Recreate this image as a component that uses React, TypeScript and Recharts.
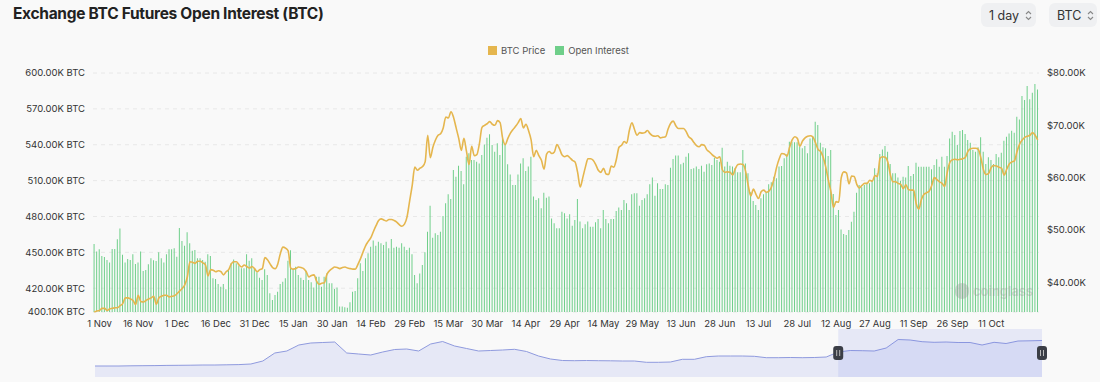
import React from 'react';
import {
  Area,
  AreaChart,
  Bar,
  CartesianGrid,
  ComposedChart,
  Line,
  ReferenceArea,
  ReferenceDot,
  XAxis,
  YAxis,
} from 'recharts';

// Open interest, K BTC, one bar per day from 30 Oct
const openInterest = [
  457, 450.6, 452.5, 447, 446, 443.6, 441.6, 452.8, 452.8, 461,
  470, 448, 441.6, 444.4, 443.6, 448.3, 440.2, 441.6, 450.6, 434.4,
  435.2, 440, 445, 443.3, 442.8, 450, 445, 441.4, 448.3, 452.5,
  452.5, 453.4, 446.4, 470.4, 459.5, 455.6, 466.7, 457.5, 451.4, 452,
  445, 445, 443.6, 442.2, 448.3, 446.9, 428.3, 427.7, 423.5, 421.3,
  423.5, 419.1, 436.1, 440.8, 444.1, 440.8, 438.9, 436.6, 436.6, 448.3,
  443, 445, 436.1, 433.3, 428.8, 426.9, 435.8, 431, 415.7, 410.1,
  414.3, 417.1, 423.5, 425.5, 428.3, 443, 451.7, 436.1, 438, 431,
  428.8, 426.9, 434.7, 426.9, 424.9, 420.5, 429.6, 429.6, 421.3, 429.6,
  432.4, 424.1, 424.1, 419.3, 420.5, 404.6, 404.6, 404.0, 403.7, 408.2,
  417.1, 417.7, 428.3, 440.8, 434.4, 445.0, 449.2, 454.7, 459.8, 455.6,
  458.9, 457.5, 456.1, 458.9, 453.4, 461.2, 453.9, 454.7, 453.9, 457.5,
  454.7, 452.0, 453.9, 448.3, 431.0, 424.1, 432.4, 439.4, 450.0, 467.3,
  489.0, 462.3, 465.9, 464.5, 467.3, 480.4, 491.0, 498.5, 494.6, 518.9,
  513.3, 522.5, 518.0, 506.9, 530.0, 532.8, 527.2, 527.2, 525.8, 524.4,
  531.4, 540.3, 545.9, 548.7, 539.8, 534.2, 541.2, 531.4, 545.4, 539.8,
  523.6, 515.2, 506.3, 506.3, 515.2, 524.4, 528.6, 518.0, 521.7, 530.0,
  496.6, 493.8, 495.2, 486.8, 499.9, 495.7, 496.6, 478.4, 474.3, 470.1,
  470.1, 484.0, 482.6, 478.4, 481.8, 472.3, 477.1, 494.6, 475.7, 470.1,
  473.4, 475.7, 471.5, 471.5, 475.1, 477.9, 470.1, 485.4, 477.9, 474.3,
  477.9, 477.9, 484.6, 487.6, 485.4, 493.8, 491.0, 485.4, 498.5, 499.4,
  499.4, 489.0, 493.8, 495.2, 498.5, 506.9, 512.5, 497.4, 507.7, 503.0,
  503.0, 506.9, 506.3, 520.8, 528.1, 530.9, 530.9, 523.6, 525.0, 530.0,
  532.8, 519.7, 520.3, 521.7, 519.7, 522.5, 517.5, 523.6, 524.4, 523.1,
  529.2, 527.2, 525.8, 537.5, 521.7, 525.8, 522.5, 521.7, 520.3, 516.9,
  516.9, 535.6, 524.4, 516.1, 500.2, 492.9, 489.6, 485.4, 495.2, 498.5,
  500.2, 506.9, 508.6, 513.3, 511.9, 521.7, 522.2, 528.6, 532.0, 542.6,
  542.6, 542.0, 542.0, 538.5, 537.0, 538.9, 532.8, 545.3, 547.3, 559.3,
  556.5, 541.7, 537.8, 537.0, 530.6, 535.6, 498.8, 481.2, 485.4, 469.2,
  465.3, 464.5, 468.7, 475.6, 484.0, 499.9, 506.3, 504.4, 506.3, 508.3,
  507.7, 510.5, 520.3, 516.1, 532.2, 536.1, 538.9, 534.2, 523.9, 516.1,
  516.1, 512.7, 509.9, 513.3, 512.7, 522.2, 513.8, 515.5, 525.0, 521.6,
  521.6, 521.6, 521.6, 521.6, 519.4, 523.0, 527.8, 521.6, 530.0, 521.6,
  530.6, 545.3, 550.9, 548.1, 539.8, 551.5, 552.3, 549.0, 543.9, 541.7,
  535.6, 534.2, 537.8, 546.2, 534.2, 523.9, 529.5, 527.2, 523.9, 532.2,
  529.5, 533.4, 543.4, 546.7, 549.5, 551.8, 550.1, 563.5, 561.2, 580.8,
  577.4, 589.1, 578.0, 583.5, 590.8, 586.3,
];

// BTC price, K USD
const btcPrice = [
  34.3, 34.5, 34.6, 35.0, 35.0, 34.6, 34.9, 35.0, 35.1, 35.1,
  35.5, 35.9, 37.0, 37.0, 36.8, 36.5, 35.7, 37.5, 36.3, 36.2,
  36.5, 36.8, 37.0, 37.3, 35.8, 37.0, 37.3, 37.5, 37.5, 37.2,
  37.3, 37.4, 37.8, 38.3, 38.8, 39.5, 41.0, 43.9, 43.8, 43.6,
  44.0, 44.0, 43.7, 43.3, 41.2, 42.4, 42.3, 42.0, 42.2, 42.0,
  41.4, 42.0, 42.4, 43.5, 43.9, 43.9, 43.3, 42.9, 43.3, 43.0,
  42.7, 43.0, 42.6, 42.0, 42.4, 42.6, 44.7, 44.3, 43.5, 42.8,
  42.6, 43.5, 45.5, 46.7, 46.5, 46.0, 42.7, 42.5, 42.6, 42.9,
  42.8, 42.6, 42.0, 41.0, 41.3, 41.4, 40.2, 39.6, 39.8, 39.9,
  41.5, 42.2, 42.6, 42.9, 42.8, 42.6, 42.8, 42.9, 42.7, 42.6,
  42.5, 42.5, 43.4, 44.5, 45.8, 47.0, 47.8, 48.5, 49.7, 50.8,
  51.8, 52.1, 51.9, 51.7, 52.0, 52.0, 51.8, 51.5, 51.0, 50.7,
  51.1, 52.5, 55.5, 58.5, 62.0, 61.4, 61.8, 62.1, 63.0, 68.1,
  63.8, 65.8, 67.2, 68.1, 68.4, 69.5, 71.6, 71.4, 72.6, 71.5,
  69.5, 67.5, 65.2, 67.5, 65.0, 62.5, 66.0, 64.2, 64.4, 66.5,
  69.6, 70.0, 70.3, 70.7, 70.2, 70.0, 70.9, 70.5, 67.5, 66.3,
  67.5, 68.5, 69.2, 69.8, 70.5, 71.3, 69.5, 70.2, 69.0, 67.2,
  64.0, 65.2, 64.2, 63.3, 61.6, 64.5, 65.0, 64.6, 64.9, 66.3,
  65.5, 64.3, 64.0, 64.2, 63.8, 63.3, 63.0, 61.0, 58.2, 60.0,
  62.0, 63.6, 63.6, 63.3, 62.5, 61.4, 61.0, 61.8, 60.7, 60.6,
  62.2, 62.0, 63.5, 65.8, 66.2, 66.9, 66.6, 69.0, 70.5, 69.2,
  68.1, 68.6, 68.5, 68.6, 69.0, 68.4, 68.0, 67.9, 68.0, 67.6,
  67.7, 67.8, 69.3, 70.4, 70.8, 69.9, 69.4, 69.4, 69.4, 68.8,
  67.8, 67.4, 66.7, 66.1, 65.9, 66.3, 66.2, 65.3, 64.9, 64.4,
  64.0, 63.7, 64.0, 61.5, 61.0, 61.1, 61.0, 60.5, 61.7, 62.5,
  62.6, 62.5, 61.2, 58.5, 56.5, 57.8, 56.8, 56.0, 57.3, 57.6,
  57.2, 57.4, 58.2, 59.8, 62.0, 63.6, 64.6, 64.5, 64.1, 65.8,
  67.2, 67.8, 67.5, 66.0, 67.0, 67.6, 67.9, 68.0, 67.8, 66.7,
  65.4, 65.0, 63.9, 62.0, 59.5, 57.3, 54.3, 55.4, 55.3, 60.0,
  61.1, 60.9, 58.8, 60.3, 60.2, 58.7, 58.0, 58.5, 58.9, 58.9,
  59.5, 59.3, 60.4, 60.2, 63.7, 64.0, 63.9, 63.0, 60.5, 59.2,
  59.2, 58.9, 58.7, 57.9, 58.6, 57.7, 57.6, 57.6, 55.0, 54.0,
  55.8, 56.8, 57.1, 57.4, 58.5, 60.0, 59.6, 59.2, 58.9, 58.3,
  61.0, 62.9, 63.4, 63.5, 63.4, 63.5, 63.6, 63.9, 65.0, 65.5,
  65.6, 65.6, 65.4, 63.8, 61.5, 60.6, 60.8, 61.9, 62.3, 62.2,
  62.0, 61.8, 60.5, 61.6, 62.6, 63.0, 63.2, 65.0, 66.4, 67.2,
  67.7, 67.9, 68.1, 68.6, 68.1, 67.2,
];

const xTicks = [
  '1 Nov', '16 Nov', '1 Dec', '16 Dec', '31 Dec', '15 Jan', '30 Jan', '14 Feb',
  '29 Feb', '15 Mar', '30 Mar', '14 Apr', '29 Apr', '14 May', '29 May', '13 Jun',
  '28 Jun', '13 Jul', '28 Jul', '12 Aug', '27 Aug', '11 Sep', '26 Sep', '11 Oct',
];
const oiTicks = [400.1, 420, 450, 480, 510, 540, 570, 600];
const priceTicks = [40, 50, 60, 70, 80];

// overview strip under the chart (longer history)
const overview = [
  11, 11, 11, 11.2, 11.3, 11.4, 11.6, 11.7, 11.8, 12,
  12, 12.2, 12.4, 13, 16, 24, 26, 32, 34, 34.5,
  35, 24, 23, 22, 25, 27.5, 28, 26, 33, 35.5,
  31, 28.5, 26, 26.5, 27, 27.7, 25.5, 21, 18, 16.5,
  16.3, 16.5, 16.3, 16.2, 16, 16, 14.7, 14.7, 15, 17.7,
  17.7, 20.3, 21, 21, 21, 20.7, 19.3, 19.3, 19.5, 19.3,
  19.5, 20, 25, 26.5, 26.3, 26, 29, 37.5, 37, 35.3,
  34.7, 35, 34.5, 34.5, 32, 34.7, 33.5, 36, 36.2, 36.5,
];
const brushStart = 62;
const brushEnd = 79;

const MONTHS = ['Jan', 'Feb', 'Mar', 'Apr', 'May', 'Jun', 'Jul', 'Aug', 'Sep', 'Oct', 'Nov', 'Dec'];
const start = Date.UTC(2023, 9, 30);

const data = openInterest.map((oi, i) => {
  const d = new Date(start + i * 86400000);
  return { date: `${d.getUTCDate()} ${MONTHS[d.getUTCMonth()]}`, oi, price: btcPrice[i] };
});
const overviewData = overview.map((v, i) => ({ i, v }));

const FONT = 'Inter, "Noto Sans", sans-serif';
const tickStyle = { fontSize: 9.5, fill: '#333', fontFamily: FONT };

const Handle = (props: any) => {
  const { cx, cy } = props;
  return (
    <g>
      <rect x={cx - 5} y={cy - 7} width={10} height={14} rx={3} fill="#3b3e46" />
      <line x1={cx - 1.5} y1={cy - 3} x2={cx - 1.5} y2={cy + 3} stroke="#bbb" strokeWidth={1} />
      <line x1={cx + 1.5} y1={cy - 3} x2={cx + 1.5} y2={cy + 3} stroke="#bbb" strokeWidth={1} />
    </g>
  );
};

const Chevron = () => (
  <svg width={7} height={11} style={{ marginLeft: 6 }}>
    <path d="M1 4 L3.5 1.5 L6 4 M1 7 L3.5 9.5 L6 7" stroke="#888" strokeWidth={1.1} fill="none" />
  </svg>
);

const selectBox: React.CSSProperties = {
  position: 'absolute',
  top: 3,
  height: 24,
  borderRadius: 6,
  background: '#eff0f2',
  fontSize: 12.5,
  color: '#333',
  display: 'flex',
  alignItems: 'center',
  paddingLeft: 8,
  boxSizing: 'border-box',
  whiteSpace: 'nowrap',
};

export default function App() {
  return (
    <div style={{ position: 'absolute', left: 0, top: 0, width: 1100, height: 382, background: '#f9f9f9', fontFamily: FONT, overflow: 'hidden' }}>
      <div style={{ position: 'absolute', left: 13, top: 4, fontSize: 15.5, fontWeight: 700, color: '#222', letterSpacing: -0.3 }}>
        Exchange BTC Futures Open Interest (BTC)
      </div>
      <div style={{ ...selectBox, left: 981, width: 55 }}>1 day<Chevron /></div>
      <div style={{ ...selectBox, left: 1049, width: 48 }}>BTC<Chevron /></div>

      <div style={{ position: 'absolute', top: 45, left: 488, display: 'flex', alignItems: 'center', fontSize: 9.5, color: '#555' }}>
        <span style={{ width: 9, height: 9, background: '#e5b64e', display: 'inline-block', marginRight: 4 }} />
        <span style={{ marginRight: 10 }}>BTC Price</span>
        <span style={{ width: 9, height: 9, background: '#6fcf8a', display: 'inline-block', marginRight: 4 }} />
        <span>Open Interest</span>
      </div>

      <div style={{ position: 'absolute', left: 0, top: 0 }}>
        <ComposedChart width={1100} height={335} data={data} margin={{ top: 73, right: 0, bottom: 0, left: 0 }} barCategoryGap="22%">
          <CartesianGrid yAxisId="left" vertical={false} stroke="#e8e8e8" strokeDasharray="4 4" />
          <XAxis dataKey="date" ticks={xTicks} interval={0} tick={tickStyle} tickLine={false} axisLine={false} height={23} />
          <YAxis
            yAxisId="left"
            width={93}
            domain={[400.1, 600]}
            ticks={oiTicks}
            tickFormatter={(v: number) => `${v.toFixed(2)}K BTC`}
            tick={tickStyle}
            tickLine={false}
            axisLine={false}
          />
          <YAxis
            yAxisId="right"
            orientation="right"
            width={61}
            domain={[34.3, 80]}
            ticks={priceTicks}
            tickFormatter={(v: number) => `$${v.toFixed(2)}K`}
            tick={tickStyle}
            tickLine={false}
            axisLine={false}
          />
          <Bar yAxisId="left" dataKey="oi" fill="#6fcf8a" isAnimationActive={false} />
          <Line yAxisId="right" dataKey="price" type="monotone" stroke="#e5b64e" strokeWidth={1.6} dot={false} isAnimationActive={false} />
        </ComposedChart>
      </div>

      <div style={{ position: 'absolute', left: 955, top: 283, display: 'flex', alignItems: 'center', color: 'rgba(150,150,150,0.35)', fontSize: 13, fontWeight: 600 }}>
        <span style={{ width: 14, height: 16, borderRadius: 7, background: 'rgba(150,150,150,0.35)', display: 'inline-block', marginRight: 4 }} />
        coinglass
      </div>

      <div style={{ position: 'absolute', left: 95, top: 329 }}>
        <AreaChart width={960} height={48} data={overviewData} margin={{ top: 0, right: 13, bottom: 0, left: 0 }}>
          <XAxis dataKey="i" type="number" domain={[0, overview.length - 1]} hide />
          <YAxis domain={[0, 48]} hide />
          <Area dataKey="v" type="linear" stroke="#8f9ade" strokeWidth={1} fill="#e6e8f6" fillOpacity={1} isAnimationActive={false} />
          <ReferenceArea x1={brushStart} x2={brushEnd} fill="#6f7ce6" fillOpacity={0.13} stroke="none" />
          <ReferenceDot x={brushStart} y={24} shape={Handle} />
          <ReferenceDot x={brushEnd} y={24} shape={Handle} />
        </AreaChart>
      </div>
    </div>
  );
}
